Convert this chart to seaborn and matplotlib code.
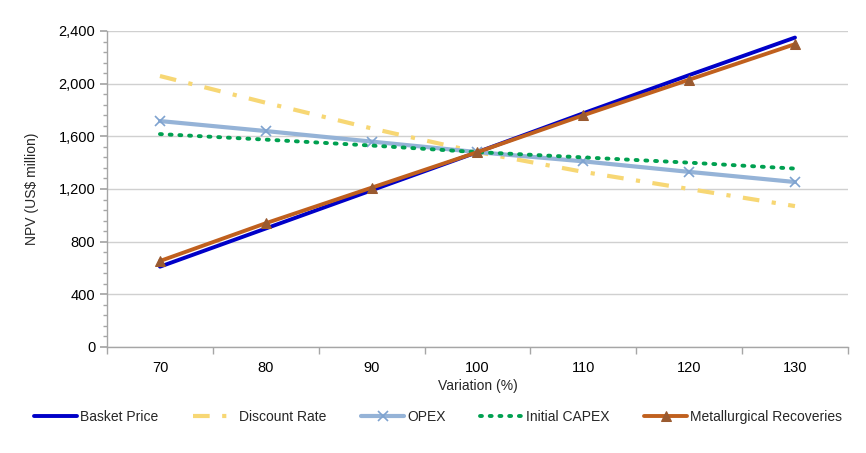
import matplotlib
matplotlib.use("Agg")
import matplotlib.pyplot as plt
from matplotlib.ticker import MultipleLocator, FuncFormatter
import numpy as np
import pandas as pd
import seaborn as sns

# data
variation = [70, 80, 90, 100, 110, 120, 130]
basket_price = [610, 900, 1190, 1480, 1775, 2065, 2350]
discount_rate = [2058, 1855, 1660, 1480, 1330, 1200, 1070]
opex = [1716, 1640, 1560, 1480, 1410, 1330, 1253]
initial_capex = [1617, 1575, 1530, 1480, 1440, 1400, 1355]
met_recoveries = [653, 940, 1210, 1480, 1760, 2030, 2300]

series = {
    "Basket Price": basket_price,
    "Discount Rate": discount_rate,
    "OPEX": opex,
    "Initial CAPEX": initial_capex,
    "Metallurgical Recoveries": met_recoveries,
}

sns.set_theme(style="white")
plt.rcParams["font.family"] = ["Liberation Sans", "DejaVu Sans"]

fig = plt.figure(figsize=(8.66, 4.53), dpi=100)
ax = fig.add_axes([0.1236, 0.234, 0.8555, 0.6976])

styles = {
    "Basket Price": dict(color="#0000C8", lw=2.8, ls="-", marker=None),
    "Discount Rate": dict(color="#F7D774", lw=3.0, ls=(0, (4, 3, 1, 3)), marker=None),
    "OPEX": dict(color="#95B3D7", lw=3.0, ls="-", marker="x", ms=7, mew=1.2,
                 mec="#7FA3D0"),
    "Initial CAPEX": dict(color="#00A050", lw=2.8, ls=(0, (0.5, 2.0)),
                          marker=None, dash_capstyle="round"),
    "Metallurgical Recoveries": dict(color="#C0601E", lw=2.8, ls="-", marker="^",
                                     ms=7, mfc="#9A5A30", mec="#9A5A30"),
}

for name, vals in series.items():
    df = pd.DataFrame({"x": variation, "y": vals})
    st = dict(styles[name])
    ls = st.pop("ls")
    sns.lineplot(data=df, x="x", y="y", ax=ax, label=name, linestyle=ls, **st)

ax.set_xlim(65, 135)
ax.set_ylim(0, 2400)
ax.set_xticks(variation)
ax.set_xticks(np.arange(65, 136, 10), minor=True)
ax.yaxis.set_major_locator(MultipleLocator(400))
ax.yaxis.set_minor_locator(MultipleLocator(80))
ax.yaxis.set_major_formatter(FuncFormatter(lambda v, p: f"{int(v):,}"))

ax.grid(axis="y", color="#D0D0D0", lw=1.0)
ax.set_axisbelow(True)
for s in ["top", "right"]:
    ax.spines[s].set_visible(False)
for s in ["left", "bottom"]:
    ax.spines[s].set_color("#A6A6A6")
    ax.spines[s].set_linewidth(1.0)

ax.tick_params(axis="x", which="major", length=0, labelsize=10.5, pad=10,
               colors="black")
ax.tick_params(axis="x", which="minor", length=5, color="#A6A6A6",
               direction="out", bottom=True)
ax.tick_params(axis="y", which="major", length=5, color="#A6A6A6",
               direction="out", left=True, labelsize=10.5, labelcolor="black")
ax.tick_params(axis="y", which="minor", length=3, color="#A6A6A6",
               direction="out", left=True)

ax.set_xlabel("Variation (%)", fontsize=10, labelpad=3)
ax.set_ylabel("NPV (US$ million)", fontsize=10, labelpad=14)

leg = ax.legend(loc="center", bbox_to_anchor=(0.447, -0.222), ncol=5,
                frameon=False, fontsize=10, handlelength=3.1,
                handletextpad=0.2, columnspacing=2.5)

fig.savefig("out.png", dpi=100)
